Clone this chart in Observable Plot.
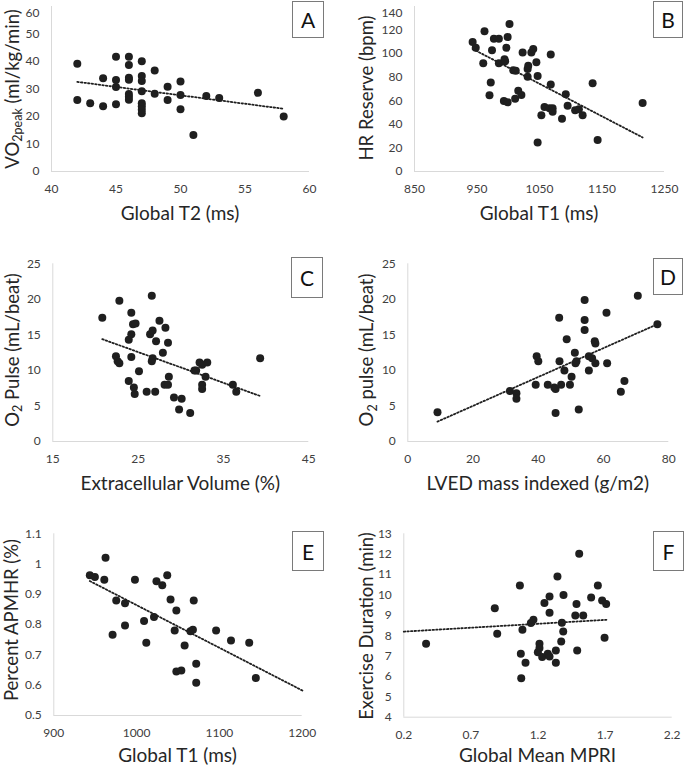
<!DOCTYPE html>
<html>
<head>
<meta charset="utf-8">
<script src="https://cdn.jsdelivr.net/npm/d3@7"></script>
<script src="https://cdn.jsdelivr.net/npm/@observablehq/plot@0.6"></script>
<style>
  body { margin: 0; background: #fff; }
  #fig { position: relative; width: 685px; height: 767px; overflow: hidden; background: #fff; font-family: Lato, "Open Sans", sans-serif; }
  #fig svg { position: absolute; overflow: visible; }
  .tag { position: absolute; box-sizing: border-box; border: 1px solid #7a7a7a; background: #fff;
         display: flex; align-items: center; justify-content: center; font-size: 21px; color: #111; }
</style>
</head>
<body>
<div id="fig"></div>
<script>
// Panel A: VO2peak vs global T2
const t2A  = [42,42,43,44,44,45,45,45,45,46,46,46,46,46,46,46,47,47,47,47,47,47,47,47,48,48,49,49,50,50,50,51,52,53,56,58];
const vo2A = [39.2,26,24.8,33.9,23.7,41.7,33.3,30.7,24.5,41.7,38.7,34.1,33.4,28.2,27.2,26.1,40.1,34.7,32.9,29.2,24.8,23.7,22.5,21.2,36.7,28.3,30.8,26,32.7,27.8,22.6,13.3,27.5,26.7,28.6,20];
const trendXA = [42, 58], trendYA = [32.6, 22.8];
const xTicksA = [40,45,50,55,60], yTicksA = [0,10,20,30,40,50,60];

// Panel B: HR reserve vs global T1
const t1B = [943,948,962,960,972,970,974,977,985,985,993,994,995,997,999,999,1002,1008,1012,1011,1016,1021,1023,1031,1031,1032,1037,1040,1045,1047,1047,1053,1058,1066,1068,1068,1071,1071,1086,1092,1095,1107,1113,1119,1135,1143,1215];
const hrB = [109.9,104.9,118.9,91.9,75.6,64.7,102.9,112.7,112.7,91.9,59.9,95.3,93.6,104.9,114.1,58.8,125.1,86,85.5,61.8,68.6,64.9,100.9,80.4,86.9,89.7,100.9,104,92.8,81,24.7,47.8,54.8,53.7,99.2,73.9,53.7,50.6,44.7,65.5,55.7,52,52.9,47.8,74.8,26.7,58.2];
const trendXB = [943, 1215], trendYB = [104, 28.9];
const xTicksB = [850,950,1050,1150,1250], yTicksB = [0,20,40,60,80,100,120,140];

// Panel C: O2 pulse vs extracellular volume
const ecvC = [20.8,22.8,22.4,22.6,22.8,23.9,24.2,24.2,24.2,24.4,24.7,23.9,24.5,24.6,25.1,26.0,26.4,26.6,26.7,26.6,26.7,27.0,27.1,27.5,27.9,28.2,28.1,28.5,28.5,28.6,29.2,30.1,29.8,31.1,31.6,31.8,32.2,32.5,33.1,32.5,32.5,32.9,36.1,36.5,39.3];
const o2C  = [17.4,19.8,12.0,11.3,11.0,14.3,15.1,18.1,11.9,16.5,16.6,8.5,7.6,6.7,9.9,7.0,15.1,20.5,15.6,11.3,11.7,7.0,14.1,17.0,12.5,16.0,8.0,8.0,13.9,9.1,6.2,6.0,4.5,4.0,10.0,10.0,11.1,10.8,11.1,8.0,7.4,9.1,8.0,7.0,11.7];
const trendXC = [20.8, 39.3], trendYC = [14.4, 6.4];
const xTicksC = [15,25,35,45], yTicksC = [0,5,10,15,20,25];

// Panel D: O2 pulse vs LVED mass indexed
const lvD = [9.1,31.3,33.3,33.3,39.2,39.5,40.0,42.9,44.9,45.3,45.3,46.4,46.5,47.0,48.0,48.7,49.7,50.2,51.2,51.4,51.7,52.4,54.2,54.2,54.2,55.5,55.5,56.5,57.3,57.5,57.5,60.9,61.1,65.3,66.4,70.5,76.5];
const o2D = [4.1,7.1,6.8,6.0,8.0,12.0,11.3,8.0,7.6,7.4,4.0,17.4,11.3,8.0,10.0,14.4,8.0,9.1,12.5,11.0,11.3,4.5,19.9,17.1,15.7,10.0,12.0,11.7,14.1,13.8,11.0,18.1,11.0,7.0,8.5,20.5,16.5];
const trendXD = [9.1, 76.5], trendYD = [2.8, 16.5];
const xTicksD = [0,20,40,60,80], yTicksD = [0,5,10,15,20,25];

// Panel E: percent APMHR vs global T1
const t1E = [943.5,949.6,962.5,961,971,975.4,986,986,998,1009,1011.7,1021,1024,1031,1037,1041,1048,1046,1048,1054,1058,1065,1068,1069,1072,1072,1096,1114,1136,1144];
const apE = [0.963,0.957,1.021,0.948,0.767,0.880,0.871,0.797,0.948,0.812,0.740,0.825,0.943,0.930,0.963,0.883,0.847,0.781,0.645,0.649,0.731,0.778,0.783,0.880,0.671,0.608,0.781,0.748,0.740,0.624];
const trendXE = [943.5, 1202], trendYE = [0.944, 0.58];
const xTicksE = [900,1000,1100,1200], yTicksE = [0.5,0.6,0.7,0.8,0.9,1,1.1];

// Panel F: exercise duration vs global mean MPRI
const mpriF = [0.366,0.878,0.896,1.065,1.072,1.075,1.084,1.107,1.147,1.166,1.199,1.211,1.211,1.231,1.248,1.273,1.286,1.286,1.286,1.333,1.333,1.345,1.373,1.378,1.39,1.388,1.478,1.487,1.492,1.507,1.537,1.596,1.646,1.678,1.696,1.708];
const durF  = [7.6,9.35,8.09,10.46,7.11,5.91,8.29,6.67,8.62,8.78,7.19,7.6,7.39,6.95,9.6,7.11,6.98,9.92,9.12,7.27,6.67,10.91,7.72,8.63,10.0,8.21,8.99,9.55,7.27,12.02,8.99,9.88,10.46,9.73,7.9,9.56];
const trendXF = [0.2, 1.71], trendYF = [8.2, 8.78];
const xTicksF = [0.2,0.7,1.2,1.7,2.2], yTicksF = [4,5,6,7,8,9,10,11,12,13];

const fig = document.getElementById("fig");
const FONT = "Lato, 'Open Sans', sans-serif";

// cell: [left, top, width, height]; frame: [xLeft, xRight, yTop, yBottom] in page pixels
function panel(p) {
  const [ox, oy, W, H] = p.cell;
  const [fl, fr, ft, fb] = p.frame;
  const pts = p.xs.map((x, i) => ({x, y: p.ys[i]}));
  const trend = p.tx.map((x, i) => ({x, y: p.ty[i]}));
  const chart = Plot.plot({
    width: W, height: H,
    marginLeft: fl - ox, marginRight: ox + W - fr,
    marginTop: ft - oy, marginBottom: oy + H - fb,
    style: {fontFamily: FONT, fontSize: "12px", color: "#404040", background: "transparent", overflow: "visible"},
    x: {domain: p.xDomain, ticks: p.xTicks, tickSize: 0, tickPadding: 13, tickFormat: d => String(d), label: null},
    y: {domain: p.yDomain, ticks: p.yTicks, tickSize: 0, tickPadding: 12, tickFormat: d => String(d), label: null},
    marks: [
      Plot.ruleY([p.yDomain[0]], {stroke: "#d9d9d9", strokeWidth: 1}),
      Plot.ruleX([p.xDomain[0]], {stroke: "#d9d9d9", strokeWidth: 1}),
      Plot.line(trend, {x: "x", y: "y", stroke: "#1f1f1f", strokeWidth: 1.8, strokeDasharray: "1.5,2.1"}),
      Plot.dot(pts, {x: "x", y: "y", r: 4, fill: "#1f1f1f", stroke: "none"})
    ]
  });
  chart.style.left = ox + "px";
  chart.style.top = oy + "px";
  const svg = d3.select(chart);
  // keep the topmost y tick label inside the page when the frame touches the top edge
  if (p.nudgeTopTick) {
    svg.selectAll('g[aria-label="y-axis tick label"] text')
      .filter(function() { return this.textContent === String(p.yDomain[1]); })
      .attr("dy", "0.56em");
  }
  // x-axis title
  svg.append("text")
    .attr("x", (fl + fr) / 2 - ox).attr("y", fb + (p.xLabelGap || 42) - oy).attr("dy", "0.35em")
    .attr("text-anchor", "middle").attr("font-family", FONT).attr("font-size", 19).attr("fill", "#262626")
    .text(p.xLabel);
  // y-axis title, with optional subscript parts
  const t = svg.append("text")
    .attr("transform", `translate(${p.yLabelX - ox},${p.yLabelY - oy}) rotate(-90)`)
    .attr("text-anchor", "middle").attr("font-family", FONT).attr("font-size", 18.5).attr("fill", "#262626");
  p.yLabel.forEach(([s, sub]) => {
    const ts = t.append("tspan").text(s);
    if (sub) ts.attr("font-size", 12.5).attr("dy", "0.3em");
    else if (t.selectAll("tspan").size() > 1) ts.attr("dy", "-0.2em");
  });
  fig.appendChild(chart);
  // panel tag box
  const tag = document.createElement("div");
  tag.className = "tag";
  const [bx0, by0, bx1, by1] = p.tagBox;
  Object.assign(tag.style, {left: bx0 + "px", top: by0 + "px", width: (bx1 - bx0) + "px", height: (by1 - by0) + "px"});
  tag.textContent = p.tag;
  fig.appendChild(tag);
}

panel({cell: [0, 0, 340, 250], frame: [51, 309, 6, 171], nudgeTopTick: true,
  xs: t2A, ys: vo2A, tx: trendXA, ty: trendYA, xDomain: [40, 60], yDomain: [0, 60], xTicks: xTicksA, yTicks: yTicksA,
  xLabel: "Global T2 (ms)", yLabel: [["VO"], ["2peak", true], [" (ml/kg/min)"]], yLabelX: 18.5, yLabelY: 89,
  tag: "A", tagBox: [292, 1, 324, 38]});

panel({cell: [340, 0, 345, 250], frame: [414, 664, 6, 171], nudgeTopTick: true,
  xs: t1B, ys: hrB, tx: trendXB, ty: trendYB, xDomain: [850, 1250], yDomain: [0, 140], xTicks: xTicksB, yTicks: yTicksB,
  xLabel: "Global T1 (ms)", yLabel: [["HR Reserve (bpm)"]], yLabelX: 373, yLabelY: 88,
  tag: "B", tagBox: [653, 1, 683, 38]});

panel({cell: [0, 250, 340, 250], frame: [52.3, 308.3, 263.3, 441],
  xs: ecvC, ys: o2C, tx: trendXC, ty: trendYC, xDomain: [15, 45], yDomain: [0, 25], xTicks: xTicksC, yTicks: yTicksC,
  xLabel: "Extracellular Volume (%)", yLabel: [["O"], ["2", true], [" Pulse (mL/beat)"]], yLabelX: 18.5, yLabelY: 350,
  tag: "C", tagBox: [291, 257, 323, 298]});

panel({cell: [340, 250, 345, 250], frame: [407.3, 668.3, 263.3, 441],
  xs: lvD, ys: o2D, tx: trendXD, ty: trendYD, xDomain: [0, 80], yDomain: [0, 25], xTicks: xTicksD, yTicks: yTicksD,
  xLabel: "LVED mass indexed (g/m2)", yLabel: [["O"], ["2", true], [" pulse (mL/beat)"]], yLabelX: 373, yLabelY: 350,
  tag: "D", tagBox: [653, 258, 683, 295]});

panel({cell: [0, 500, 340, 267], frame: [53.3, 301.7, 533.3, 715], xLabelGap: 40,
  xs: t1E, ys: apE, tx: trendXE, ty: trendYE, xDomain: [900, 1200], yDomain: [0.5, 1.1], xTicks: xTicksE, yTicks: yTicksE,
  xLabel: "Global T1 (ms)", yLabel: [["Percent APMHR (%)"]], yLabelX: 18, yLabelY: 620,
  tag: "E", tagBox: [292, 531, 324, 571]});

panel({cell: [340, 500, 345, 267], frame: [403.3, 671.7, 533.3, 716.7], xLabelGap: 38.5,
  xs: mpriF, ys: durF, tx: trendXF, ty: trendYF, xDomain: [0.2, 2.2], yDomain: [4, 13], xTicks: xTicksF, yTicks: yTicksF,
  xLabel: "Global Mean MPRI", yLabel: [["Exercise Duration (min)"]], yLabelX: 373, yLabelY: 626,
  tag: "F", tagBox: [653, 531, 684, 571]});
</script>
</body>
</html>
